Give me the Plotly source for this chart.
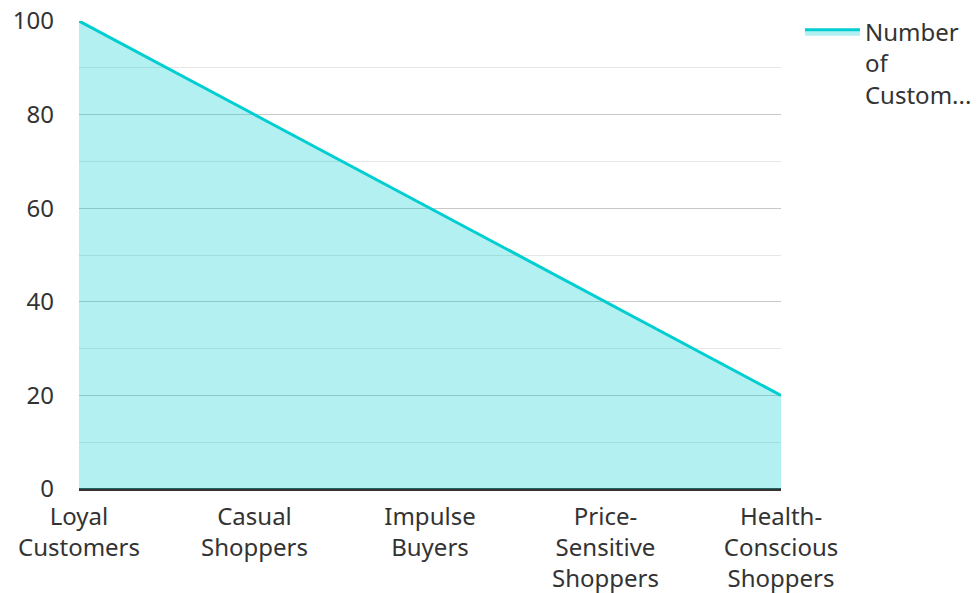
import plotly.graph_objects as go

categories = ["Loyal Customers", "Casual Shoppers", "Impulse Buyers",
              "Price-Sensitive Shoppers", "Health-Conscious Shoppers"]
tick_labels = ["Loyal<br>Customers", "Casual<br>Shoppers", "Impulse<br>Buyers",
               "Price-<br>Sensitive<br>Shoppers", "Health-<br>Conscious<br>Shoppers"]
values = [100, 80, 60, 40, 20]
series_name = "Number<br>of<br>Custom..."

fig = go.Figure()
fig.add_trace(go.Scatter(
    x=categories, y=values, mode="lines", name=series_name,
    line=dict(color="#00CED1", width=3),
    fill="tozeroy", fillcolor="rgba(0,206,209,0.3)",
    showlegend=True,
))

font_family = "Noto Sans, Open Sans, sans-serif"
fig.update_layout(
    width=978, height=593,
    margin=dict(l=79, r=197, t=21, b=104, autoexpand=False),
    paper_bgcolor="white", plot_bgcolor="white",
    font=dict(family=font_family, size=24, color="#333333"),
    showlegend=True,
    legend=dict(x=1.027, y=1.024, xanchor="left", yanchor="top", valign="top",
                itemwidth=55,
                font=dict(size=24, color="#333333"),
                bgcolor="rgba(0,0,0,0)"),
    xaxis=dict(
        type="category", range=[0, 4], automargin=False,
        tickmode="array", tickvals=categories, ticktext=tick_labels,
        showgrid=False, showline=False, ticks="", ticklabelstandoff=11,
        tickfont=dict(size=24, color="#333333"),
    ),
    yaxis=dict(
        range=[0, 100], dtick=20, tick0=0, automargin=False,
        showgrid=True, gridcolor="#c8c8c8", gridwidth=1,
        minor=dict(dtick=10, showgrid=True, gridcolor="#e6e6e6", gridwidth=1),
        zeroline=True, zerolinecolor="#333333", zerolinewidth=3,
        showline=False, ticks="", ticklabelstandoff=24,
        tickfont=dict(size=24, color="#333333"),
    ),
)

fig.write_html("out.html")
